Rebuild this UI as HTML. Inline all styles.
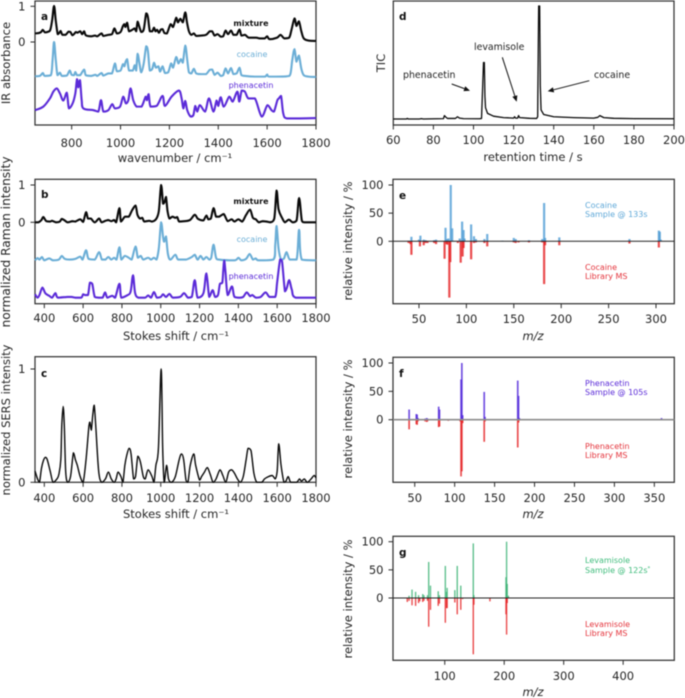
<!DOCTYPE html>
<html>
<head>
<meta charset="utf-8">
<style>
html,body{margin:0;padding:0;background:#fff;width:685px;height:698px;overflow:hidden}
svg{display:block;font-family:"DejaVu Sans","Liberation Sans",sans-serif;filter:blur(.5px)}
.lbl{font-size:11.5px;fill:#262626}
.ann{font-size:8px}
.pk{font-size:9.4px;fill:#222}
.let{font-size:10.5px;font-weight:bold;fill:#111}
.mid{text-anchor:middle}
</style>
</head>
<body>
<svg id="figure" width="685" height="698" viewBox="0 0 685 698" xmlns="http://www.w3.org/2000/svg">
  <g id="marks"></g>

  <text class="lbl mid" transform="translate(10,63) rotate(-90)">IR absorbance</text>
  <text class="lbl mid" x="175" y="162">wavenumber / cm⁻¹</text>
  <text class="lbl mid" transform="translate(10,242) rotate(-90)" style="font-size:12.2px">normalized Raman intensity</text>
  <text class="lbl mid" x="176" y="340">Stokes shift / cm⁻¹</text>
  <text class="lbl mid" transform="translate(10,420) rotate(-90)">normalized SERS intensity</text>
  <text class="lbl mid" x="176" y="518">Stokes shift / cm⁻¹</text>
  <text class="lbl mid" transform="translate(385,63) rotate(-90)">TIC</text>
  <text class="lbl mid" x="533" y="161">retention time / s</text>
  <text class="lbl mid" transform="translate(352,241) rotate(-90)">relative intensity / %</text>
  <text class="lbl mid" x="533" y="340" font-style="italic">m/z</text>
  <text class="lbl mid" transform="translate(352,419) rotate(-90)">relative intensity / %</text>
  <text class="lbl mid" x="533" y="518" font-style="italic">m/z</text>
  <text class="lbl mid" transform="translate(352,599) rotate(-90)">relative intensity / %</text>
  <text class="lbl mid" x="533" y="696" font-style="italic">m/z</text>

  <text class="let" x="41" y="20">a</text>
  <text class="let" x="41" y="198">b</text>
  <text class="let" x="41" y="377">c</text>
  <text class="let" x="399" y="20">d</text>
  <text class="let" x="399" y="199">e</text>
  <text class="let" x="399" y="377">f</text>
  <text class="let" x="399" y="556">g</text>

  <text class="ann mid" x="251" y="26" font-weight="bold" fill="#111">mixture</text>
  <text class="ann mid" x="252" y="57" fill="#6baed6">cocaine</text>
  <text class="ann mid" x="251" y="88" fill="#5b2bd8">phenacetin</text>
  <text class="ann mid" x="251" y="204" font-weight="bold" fill="#111">mixture</text>
  <text class="ann mid" x="252" y="242" fill="#6baed6">cocaine</text>
  <text class="ann mid" x="251" y="279" fill="#5b2bd8">phenacetin</text>

  <text class="pk" x="403" y="78">phenacetin</text>
  <text class="pk" x="474" y="50">levamisole</text>
  <text class="pk" x="594" y="78">cocaine</text>

  <text class="ann" x="585" y="208" fill="#5fa8d8">Cocaine</text>
  <text class="ann" x="585" y="217" fill="#5fa8d8">Sample @ 133s</text>
  <text class="ann" x="585" y="270" fill="#e4343c">Cocaine</text>
  <text class="ann" x="585" y="279" fill="#e4343c">Library MS</text>
  <text class="ann" x="585" y="386" fill="#5b2bd8">Phenacetin</text>
  <text class="ann" x="585" y="395" fill="#5b2bd8">Sample @ 105s</text>
  <text class="ann" x="585" y="449" fill="#e4343c">Phenacetin</text>
  <text class="ann" x="585" y="458" fill="#e4343c">Library MS</text>
  <text class="ann" x="585" y="563" fill="#3fbc7c">Levamisole</text>
  <text class="ann" x="585" y="573" fill="#3fbc7c">Sample @ 122s<tspan dy="-3" font-size="5.5">*</tspan></text>
  <text class="ann" x="585" y="627" fill="#e4343c">Levamisole</text>
  <text class="ann" x="585" y="636" fill="#e4343c">Library MS</text>
</svg>

<script>
/* ---------- Panel a: IR [wavenumber, absorbance] ---------- */
const irMixture = [[650,.24],[665,.25],[675,.28],[682,.34],[690,.27],[700,.28],[712,.33],[720,.6],[728,1.01],[735,.6],[743,.22],[750,.26],[755,.31],[762,.2],[775,.2],[787,.29],[795,.28],[803,.19],[812,.24],[817,.28],[824,.26],[835,.3],[843,.22],[851,.3],[858,.19],[880,.16],[895,.18],[905,.16],[922,.24],[930,.17],[950,.2],[965,.22],[975,.38],[985,.24],[1000,.28],[1010,.45],[1016,.5],[1020,.42],[1027,.54],[1035,.3],[1050,.35],[1058,.38],[1064,.3],[1070,.57],[1076,.45],[1085,.28],[1095,.35],[1105,.8],[1112,.7],[1120,.3],[1130,.3],[1137,.4],[1143,.3],[1150,.34],[1157,.26],[1165,.35],[1172,.36],[1180,.25],[1190,.24],[1205,.5],[1215,.42],[1228,.68],[1235,.55],[1245,.65],[1255,.55],[1265,.83],[1272,.55],[1280,.3],[1290,.2],[1300,.24],[1310,.17],[1330,.18],[1350,.2],[1365,.3],[1375,.3],[1385,.18],[1397,.22],[1410,.15],[1420,.16],[1430,.32],[1440,.22],[1452,.32],[1462,.2],[1475,.2],[1487,.35],[1495,.18],[1510,.2],[1525,.12],[1555,.12],[1570,.1],[1590,.1],[1600,.16],[1610,.08],[1640,.12],[1655,.2],[1670,.1],[1690,.12],[1700,.35],[1712,.66],[1720,.45],[1730,.58],[1740,.3],[1750,.1],[1770,.04],[1800,.03]];
const irCocaine = [[650,-.96],[670,-.95],[682,-.87],[690,-.95],[715,-.93],[722,-.5],[728,0],[735,-.5],[742,-.93],[752,-.86],[760,-.95],[780,-.94],[792,-.8],[800,-.92],[810,-.93],[815,-.84],[822,-.93],[835,-.93],[851,-.77],[858,-.93],[880,-.95],[897,-.92],[905,-.95],[922,-.87],[930,-.94],[950,-.88],[965,-.88],[977,-.6],[985,-.82],[1000,-.8],[1010,-.62],[1016,-.68],[1020,-.57],[1027,-.48],[1035,-.8],[1050,-.8],[1058,-.65],[1064,-.8],[1070,-.33],[1078,-.62],[1085,-.85],[1095,-.6],[1105,-.12],[1112,-.25],[1120,-.8],[1130,-.75],[1137,-.58],[1145,-.72],[1155,-.68],[1162,-.83],[1172,-.68],[1182,-.87],[1195,-.85],[1207,-.6],[1215,-.72],[1228,-.42],[1237,-.6],[1247,-.48],[1255,-.58],[1265,-.1],[1273,-.5],[1280,-.85],[1290,-.88],[1300,-.75],[1310,-.88],[1330,-.9],[1350,-.9],[1365,-.78],[1375,-.77],[1385,-.92],[1397,-.86],[1410,-.95],[1420,-.93],[1430,-.74],[1440,-.88],[1452,-.73],[1462,-.9],[1475,-.88],[1487,-.72],[1495,-.93],[1510,-.95],[1550,-.97],[1590,-.97],[1600,-.91],[1610,-.97],[1680,-.96],[1695,-.9],[1703,-.5],[1712,-.2],[1720,-.55],[1730,-.38],[1740,-.75],[1750,-.93],[1770,-.97],[1800,-.98]];
const irPhenacetin = [[650,-1.91],[684,-1.81],[711,-1.58],[725,-1.39],[739,-1.3],[752,-1.44],[766,-1.64],[780,-1.42],[789,-1.86],[804,-1.72],[815,-1.44],[822,-1.04],[827,-1.27],[834,-1.07],[841,-1.63],[848,-1.86],[889,-1.91],[909,-1.95],[920,-1.63],[930,-1.95],[950,-1.91],[966,-1.74],[977,-1.86],[998,-1.81],[1011,-1.53],[1022,-1.72],[1032,-1.63],[1041,-1.3],[1052,-1.63],[1066,-1.81],[1086,-1.81],[1103,-1.53],[1108,-1.63],[1115,-1.46],[1123,-1.81],[1148,-1.79],[1172,-1.51],[1182,-1.79],[1209,-1.53],[1239,-1.36],[1250,-1.58],[1257,-1.86],[1265,-1.65],[1273,-1.91],[1287,-2.09],[1298,-2.05],[1306,-1.79],[1314,-1.95],[1325,-1.77],[1346,-1.95],[1362,-1.58],[1380,-1.95],[1393,-1.64],[1400,-1.79],[1410,-1.55],[1423,-1.81],[1445,-1.53],[1459,-1.67],[1478,-1.39],[1486,-1.67],[1496,-1.36],[1509,-1.39],[1523,-1.58],[1550,-1.58],[1578,-2.09],[1601,-1.77],[1618,-1.91],[1628,-1.95],[1642,-1.63],[1648,-1.58],[1657,-1.51],[1666,-2],[1680,-2.14],[1734,-2.14],[1800,-2.13]];
const irXTicks = [800,1000,1200,1400,1600,1800];
const unitYTicks = [0,1];

/* ---------- Panel b: Raman [shift, intensity] ---------- */
const ramanMixture = [[352,0],[370,0],[385,.06],[395,.14],[410,.03],[430,.02],[440,.04],[460,0],[480,.02],[490,.09],[505,.05],[520,0],[545,.03],[560,.02],[585,.08],[600,.01],[615,.27],[625,.1],[640,.1],[660,0],[682,.1],[695,0],[715,.04],[730,.06],[745,.03],[760,.06],[770,0],[787,.38],[795,.02],[815,.15],[835,.15],[852,.32],[870,.45],[880,.2],[893,.1],[905,.12],[915,.02],[940,.04],[955,.02],[975,.08],[990,.3],[1002,1],[1012,.5],[1020,.55],[1027,.68],[1035,.3],[1045,.1],[1060,.15],[1075,.12],[1085,.14],[1095,.02],[1120,.03],[1150,.06],[1175,.2],[1190,.1],[1205,.06],[1220,.05],[1235,.18],[1245,.08],[1258,.1],[1272,.38],[1285,.15],[1300,.15],[1310,.18],[1325,.22],[1345,.03],[1365,.08],[1380,.02],[1400,.08],[1420,.02],[1440,.2],[1460,.34],[1475,.12],[1490,.08],[1505,0],[1525,.03],[1545,.02],[1565,0],[1585,.1],[1597,.85],[1607,.35],[1625,.12],[1640,0],[1660,.07],[1680,0],[1700,.05],[1713,.65],[1727,.05],[1740,0],[1800,0]];
const ramanCocaine = [[352,-1.02],[365,-.96],[375,-1],[388,-.93],[400,-1.02],[425,-.97],[445,-1.02],[475,-1],[490,-.9],[505,-.98],[530,-1],[560,-.98],[585,-.92],[597,-1],[615,-.75],[628,-.98],[660,-1],[682,-.8],[697,-1],[715,-1],[730,-.93],[745,-1],[760,-.95],[772,-1],[787,-.67],[797,-1],[815,-.9],[835,-.95],[850,-1],[870,-.65],[882,-.95],[897,-.9],[910,-1],[935,-.95],[950,-1],[965,-.95],[978,-1],[990,-.7],[1002,0],[1012,-.4],[1018,-.52],[1027,-.38],[1037,-.85],[1050,-1],[1075,-.87],[1090,-1],[1130,-1],[1160,-.93],[1175,-.87],[1190,-1],[1205,-.9],[1220,-1],[1235,-.93],[1250,-1],[1260,-.95],[1272,-.6],[1285,-.95],[1300,-1],[1380,-1.02],[1400,-.95],[1415,-1.02],[1440,-.98],[1458,-.85],[1475,-1],[1490,-.97],[1505,-1.02],[1580,-1],[1590,-.6],[1597,-.1],[1607,-.7],[1620,-1],[1635,-.97],[1648,-.8],[1665,-1],[1700,-1],[1713,-.2],[1727,-1],[1800,-1.02]];
const ramanPhenacetin = [[352,-1.93],[365,-2.02],[375,-1.95],[390,-1.75],[405,-1.9],[425,-1.97],[440,-2.02],[457,-1.9],[470,-2.02],[520,-2],[540,-2],[560,-2.02],[590,-2.02],[600,-1.93],[610,-1.95],[625,-1.95],[635,-1.62],[647,-1.65],[660,-2],[680,-2.02],[700,-2.02],[713,-1.88],[725,-2.02],[750,-1.97],[765,-2.02],[787,-1.65],[797,-2.02],[830,-1.95],[845,-1.85],[857,-1.42],[868,-1.9],[885,-2.02],[920,-2.02],[935,-1.96],[950,-2.02],[965,-1.87],[980,-2.02],[1000,-2],[1012,-1.93],[1027,-2],[1045,-1.92],[1062,-2.02],[1100,-2],[1120,-1.9],[1140,-2.02],[1160,-2],[1175,-1.55],[1190,-2.02],[1220,-1.9],[1235,-1.37],[1250,-2],[1267,-1.82],[1280,-2],[1295,-1.95],[1305,-1.65],[1317,-1.62],[1322,-1.3],[1327,-1.03],[1333,-1.3],[1345,-1.95],[1367,-1.72],[1380,-2],[1410,-2.02],[1425,-2],[1443,-1.88],[1460,-1.98],[1472,-1.95],[1490,-2.02],[1515,-2],[1540,-1.88],[1560,-2],[1590,-2],[1600,-1.6],[1615,-1],[1625,-1.05],[1640,-1.85],[1650,-1.75],[1662,-1.55],[1675,-1.8],[1695,-2.02],[1800,-2.02]];
const ramanXTicks = [400,600,800,1000,1200,1400,1600,1800];

/* ---------- Panel c: SERS [shift, intensity] ---------- */
const sersSeries = [[352,.1],[365,.03],[375,0],[385,.12],[395,.19],[405,.22],[415,.2],[430,.1],[445,0],[465,.03],[475,.07],[485,.2],[490,.5],[497,.67],[503,.5],[510,.1],[520,0],[535,.05],[550,.26],[560,.2],[570,.15],[585,.05],[600,0],[615,.2],[630,.5],[635,.53],[642,.46],[650,.6],[657,.68],[665,.5],[680,.1],[695,0],[715,.03],[730,.09],[745,.03],[760,0],[770,.03],[780,.09],[795,.05],[805,0],[815,.15],[825,.24],[837,.3],[847,.25],[860,.03],[870,.05],[882,.23],[895,.18],[910,.05],[920,.03],[935,.11],[955,.05],[965,0],[975,.15],[988,.3],[1002,1],[1010,.3],[1018,0],[1030,.15],[1040,.03],[1055,0],[1075,.05],[1095,.2],[1107,.25],[1118,.2],[1130,.02],[1140,0],[1152,.15],[1170,.25],[1180,.15],[1200,.02],[1210,.05],[1225,.09],[1240,.13],[1255,.07],[1270,0],[1285,.03],[1305,.11],[1320,.06],[1335,0],[1350,.09],[1365,.11],[1380,.08],[1395,.03],[1410,0],[1425,.05],[1440,.2],[1450,.3],[1465,.28],[1480,.08],[1495,0],[1520,0],[1535,.03],[1555,.05],[1575,.06],[1590,.03],[1600,.1],[1608,.34],[1620,.15],[1635,0],[1645,.01],[1657,.05],[1670,0],[1700,0],[1715,.03],[1725,.01],[1740,.03],[1755,0],[1775,.03],[1790,.06],[1800,.04]];

/* ---------- Panel d: TIC [time, signal] ---------- */
const ticSeries = [[60,0],[66.5,0],[67,.005],[67.5,0],[73,0],[74,.003],[75,0],[85,.003],[85.5,.03],[86,.02],[87,.005],[91,.005],[92,.02],[93,.008],[95,.003],[103,.002],[104,.005],[104.5,.25],[105,.5],[105.4,.5],[105.7,.2],[106,.1],[107,.05],[110,.025],[115,.012],[120,.008],[120.5,.02],[121,.008],[122,.008],[122.5,.03],[123,.012],[128,.006],[131.5,.005],[132,.02],[132.5,1],[133,1],[133.3,.3],[133.7,.08],[135,.04],[140,.02],[150,.012],[160,.008],[162,.015],[163,.03],[165,.012],[170,.006],[180,.003],[200,.002]];
const ticXTicks = [60,80,100,120,140,160,180,200];

/* ---------- Panels e-g: mass spectra [m/z, relative intensity] ---------- */
const cocaineSample = [[39,1],[42,8],[50,3],[51.5,10],[55,3],[57,2],[66,2],[68,3],[78,24],[79.5,4],[81,5],[83.5,100],[85,23],[93,5],[95.5,35],[97,20],[98,5],[105,30],[108,9],[110,4],[119,4],[122,13],[138,1],[150,6],[152,4],[166,2],[180,4],[182,68],[183,6],[198,7],[272,4],[303,19],[304,17],[305,3]];
const cocaineLibrary = [[39,3],[41,5],[42,24],[51,9],[55,7],[57,3],[59,3],[66,3],[68,5],[77,31],[79,5],[80,6],[82,100],[83,37],[91,3],[94,38],[96,27],[97,12],[105,32],[108,3],[110,2],[119,3],[122,9],[150,2],[152,3],[155,2],[166,2],[180,2],[182,76],[183,7],[198,7],[272,4],[303,11]];
const phenacetinSample = [[43,18],[52,10],[53,9],[54,3],[63,2],[65,3],[66,2],[80,23],[81,18],[92,1],[95,1],[108,71],[109,100],[110,8],[137,49],[138,5],[150,1],[162,1],[179,69],[180,42],[181,3],[359,3]];
const phenacetinLibrary = [[43,17],[52,8],[53,9],[54,3],[63,3],[65,4],[66,3],[80,13],[81,12],[92,2],[107,3],[108,100],[109,91],[110,6],[137,39],[138,3],[179,49],[180,5]];
const levamisoleSample = [[40,4],[45,15],[51,11],[56,5],[63,7],[65,5],[71,5],[73,64],[76,22],[89,12],[91,5],[101,57],[103,11],[104,18],[117,14],[121,57],[127,22],[148,97],[149,5],[203,37],[204,100],[205,25],[207,4]];
const levamisoleLibrary = [[37,7],[40,5],[45,13],[51,14],[56,9],[58,6],[63,7],[65,5],[71,5],[73,51],[76,21],[89,14],[91,10],[101,44],[103,18],[104,18],[117,8],[121,29],[127,21],[130,2],[148,100],[149,12],[176,6],[203,29],[204,65],[205,9]];
const cocaineXTicks = [50,100,150,200,250,300];
const phenacetinXTicks = [50,100,150,200,250,300,350];
const levamisoleXTicks = [100,200,300,400];
const percentYTicks = [0,50,100];

const SVGNS = 'http://www.w3.org/2000/svg';
const root = document.getElementById('marks');

function make(tag, name, attrs, parent) {
  const el = document.createElementNS(SVGNS, tag);
  
  
  for (const k in attrs) el.setAttribute(k, attrs[k]);
  (parent || root).appendChild(el);
  return el;
}
function scale(d0, d1, p0, p1) {
  return v => p0 + (v - d0) * (p1 - p0) / (d1 - d0);
}
function panel(id, box, xDom, yRef, xTicks, yTicks, tickBaseline) {
  const g = make('g', 'panel-' + id, {});
  const x = scale(xDom[0], xDom[1], box.l, box.r);
  const y = scale(yRef[0], yRef[1], yRef[2], yRef[3]);
  make('rect', 'panel-' + id + '-frame', {x: box.l, y: box.t, width: box.r - box.l, height: box.b - box.t, fill: 'none', stroke: '#333', 'stroke-width': 1.25}, g);
  xTicks.forEach(t => {
    make('line', 'x-tick-mark', {x1: x(t), x2: x(t), y1: box.b, y2: box.b + 4.5, stroke: '#2a2a2a', 'stroke-width': 1}, g);
    const lab = make('text', 'x-tick-label', {x: x(t), y: tickBaseline, class: 'lbl mid'}, g);
    lab.textContent = t;
  });
  yTicks.forEach(t => {
    make('line', 'y-tick-mark', {x1: box.l - 4.5, x2: box.l, y1: y(t), y2: y(t), stroke: '#2a2a2a', 'stroke-width': 1}, g);
    const lab = make('text', 'y-tick-label', {x: box.l - 9.5, y: y(t) + 4, class: 'lbl', 'text-anchor': 'end'}, g);
    lab.textContent = t;
  });
  return {g, x, y, box};
}
function clampBetween(v, a, b) {
  return Math.max(Math.min(a, b), Math.min(Math.max(a, b), v));
}
/* Smoothed line through the data points; control points stay within each segment's y range. */
function curve(p, name, series, color, width) {
  const pts = series.map(d => [p.x(d[0]), p.y(d[1])]);
  let path = 'M' + pts[0][0].toFixed(2) + ' ' + pts[0][1].toFixed(2);
  for (let i = 0; i < pts.length - 1; i++) {
    const a = pts[Math.max(0, i - 1)], b = pts[i], c = pts[i + 1], d = pts[Math.min(pts.length - 1, i + 2)];
    const c1x = b[0] + (c[0] - a[0]) / 6;
    const c1y = clampBetween(b[1] + (c[1] - a[1]) / 6, b[1], c[1]);
    const c2x = c[0] - (d[0] - b[0]) / 6;
    const c2y = clampBetween(c[1] - (d[1] - b[1]) / 6, b[1], c[1]);
    path += 'C' + c1x.toFixed(2) + ' ' + c1y.toFixed(2) + ' ' + c2x.toFixed(2) + ' ' + c2y.toFixed(2) + ' ' + c[0].toFixed(2) + ' ' + c[1].toFixed(2);
  }
  make('path', name, {d: path, fill: 'none', stroke: color, 'stroke-width': width, 'stroke-linejoin': 'round'}, p.g);
}
function straight(p, name, series, color, width) {
  const pts = series.map(d => p.x(d[0]).toFixed(2) + ',' + p.y(d[1]).toFixed(2)).join(' ');
  make('polyline', name, {points: pts, fill: 'none', stroke: color, 'stroke-width': width, 'stroke-linejoin': 'round'}, p.g);
}
function sticks(p, name, series, sign, color, width) {
  series.forEach(d => {
    make('line', name, {x1: p.x(d[0]), x2: p.x(d[0]), y1: p.y(0), y2: p.y(sign * d[1]), stroke: color, 'stroke-width': width, 'stroke-opacity': .78}, p.g);
  });
}
function zeroLine(p, color, width) {
  make('line', 'zero-line', {x1: p.box.l, x2: p.box.r, y1: p.y(0), y2: p.y(0), stroke: color, 'stroke-width': width}, p.g);
}
function arrow(name, x1, y1, x2, y2) {
  const g = make('g', name, {});
  const a = Math.atan2(y2 - y1, x2 - x1), L = 6, W = 2.6;
  const bx = x2 - L * Math.cos(a), by = y2 - L * Math.sin(a);
  make('line', name + '-shaft', {x1: x1, y1: y1, x2: bx, y2: by, stroke: '#111', 'stroke-width': 1}, g);
  const px = -Math.sin(a) * W, py = Math.cos(a) * W;
  make('polygon', name + '-head', {points: x2 + ',' + y2 + ' ' + (bx + px) + ',' + (by + py) + ' ' + (bx - px) + ',' + (by - py), fill: '#111'}, g);
}

const BLACK = '#0a0a0a', BLUE = '#6baed6', PURPLE = '#5b2bd8', RED = '#e41a1c', MSBLUE = '#4a9ad4', MSPURPLE = '#4a1fd8', GREEN = '#35b070';

const pa = panel('a', {l:35, r:316, t:1, b:125}, [650,1800], [0,1,42,6.3], irXTicks, unitYTicks, 147);
curve(pa, 'ir-mixture-line', irMixture, BLACK, 2.1);
curve(pa, 'ir-cocaine-line', irCocaine, BLUE, 2.1);
curve(pa, 'ir-phenacetin-line', irPhenacetin, PURPLE, 2.1);

const pb = panel('b', {l:35, r:316, t:179.3, b:303.7}, [352,1800], [0,1,222.3,185], ramanXTicks, unitYTicks, 322);
curve(pb, 'raman-mixture-line', ramanMixture, BLACK, 2.1);
curve(pb, 'raman-cocaine-line', ramanCocaine, BLUE, 2.1);
curve(pb, 'raman-phenacetin-line', ramanPhenacetin, PURPLE, 2.1);

const pc = panel('c', {l:35, r:316, t:356.7, b:482.3}, [352,1800], [0,1,482.3,369], ramanXTicks, unitYTicks, 502);
curve(pc, 'sers-line', sersSeries, BLACK, 1.4);

const pd = panel('d', {l:393.3, r:674, t:1, b:125}, [60,200], [0,1,119,6], ticXTicks, [], 144);
straight(pd, 'tic-line', ticSeries, BLACK, 1.3);
arrow('phenacetin-arrow', 451.7, 84, 470, 90.7);
arrow('levamisole-arrow', 502.3, 57.3, 516.7, 101.7);
arrow('cocaine-arrow', 589.3, 80.7, 547.7, 91.3);

const pe = panel('e', {l:393, r:674.3, t:179.3, b:303.7}, [22.6,319.3], [0,100,241.3,185], cocaineXTicks, percentYTicks, 323);
sticks(pe, 'cocaine-sample-peak', cocaineSample, 1, MSBLUE, 2.2);
sticks(pe, 'cocaine-library-peak', cocaineLibrary, -1, RED, 2.2);
zeroLine(pe, '#222', 1);

const pf = panel('f', {l:393, r:674.3, t:357.3, b:482.3}, [22.8,375], [0,100,419.7,363], phenacetinXTicks, percentYTicks, 502);
sticks(pf, 'phenacetin-sample-peak', phenacetinSample, 1, MSPURPLE, 1.7);
sticks(pf, 'phenacetin-library-peak', phenacetinLibrary, -1, RED, 1.7);
zeroLine(pf, '#8c8c8c', 1.7);

const pg = panel('g', {l:393, r:674.3, t:536.3, b:660.3}, [13,486], [0,100,598,541.7], levamisoleXTicks, percentYTicks, 680);
sticks(pg, 'levamisole-sample-peak', levamisoleSample, 1, GREEN, 1.4);
sticks(pg, 'levamisole-library-peak', levamisoleLibrary, -1, RED, 1.4);
zeroLine(pg, '#222', 1);
</script>
</body>
</html>
